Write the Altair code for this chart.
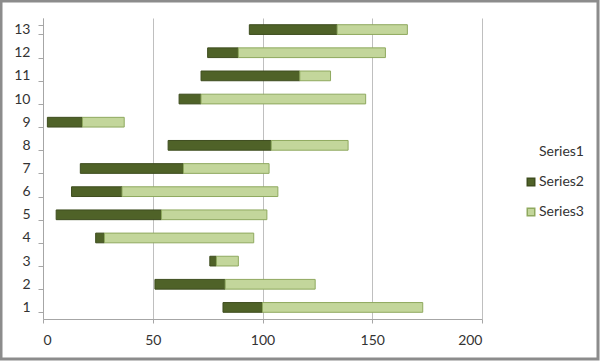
import altair as alt
import pandas as pd

categories = [str(i) for i in range(1, 14)]
series1 = [82, 51, 76, 24, 6, 13, 17, 57, 2, 62, 72, 75, 94]
series2 = [18, 32, 3, 4, 48, 23, 47, 47, 16, 10, 45, 14, 40]
series3 = [73, 41, 10, 68, 48, 71, 39, 35, 19, 75, 14, 67, 32]
series_names = ["Series1", "Series2", "Series3"]

rows = []
for name, vals in zip(series_names, [series1, series2, series3]):
    for i, (c, v) in enumerate(zip(categories, vals)):
        rows.append({"cat": c, "series": name, "value": v,
                     "ord": series_names.index(name)})
df = pd.DataFrame(rows)

font = "Lato"

bars = alt.Chart(df).mark_bar(strokeWidth=1).encode(
    y=alt.Y("cat:N", sort=categories[::-1], title=None,
            scale=alt.Scale(paddingInner=0.58, paddingOuter=0.29),
            axis=alt.Axis(tickBand="extent", tickSize=5, tickColor="#A6A6A6",
                          domainColor="#A6A6A6", labelPadding=8,
                          labelFontSize=14, labelColor="#333333",
                          labelFont=font, grid=False)),
    x=alt.X("value:Q", stack="zero", title=None,
            scale=alt.Scale(domain=[0, 200], nice=False),
            axis=alt.Axis(values=[0, 50, 100, 150, 200], tickSize=4,
                          tickColor="#A6A6A6", domainColor="#A6A6A6",
                          gridColor="#BFBFBF", labelPadding=10,
                          labelFontSize=14, labelColor="#333333",
                          labelFont=font)),
    order=alt.Order("ord:Q", sort="ascending"),
    fill=alt.Fill("series:N",
                  scale=alt.Scale(domain=series_names,
                                  range=["transparent", "#4F6228", "#C3D69B"]),
                  legend=alt.Legend(title=None, orient="none", legendX=481,
                                    legendY=127, symbolType="square",
                                    symbolSize=56, labelFontSize=14,
                                    labelFont=font, labelColor="#333333",
                                    rowPadding=16, labelOffset=1)),
    stroke=alt.Stroke("series:N",
                      scale=alt.Scale(domain=series_names,
                                      range=["transparent", "#3E4D1F", "#8FA95F"]),
                      legend=None),
)

frame = alt.Chart(pd.DataFrame({"k": [0]})).mark_rect(
    fill="transparent", stroke="#8C8C8C", strokeWidth=3, clip=False
).encode(x=alt.value(-42), x2=alt.value(555), y=alt.value(-17), y2=alt.value(341))

chart = alt.layer(bars, frame).properties(
    width=439, height=301,
    padding={"left": 43, "top": 18, "right": 118, "bottom": 43},
    autosize=alt.AutoSizeParams(type="none"),
    background="white",
).configure_view(stroke=None)

chart.save("out.html", embed_options={"renderer": "svg", "actions": False})
